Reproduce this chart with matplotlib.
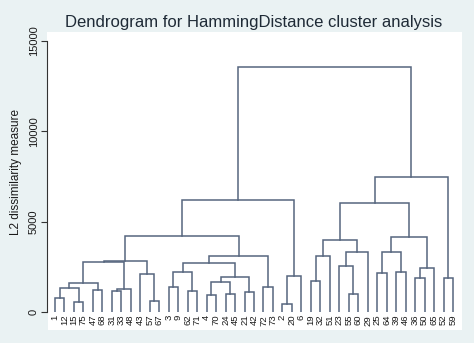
import matplotlib
matplotlib.use("Agg")
import matplotlib.pyplot as plt
from matplotlib.patches import Rectangle

# leaf order along the x axis
leaves = ["1", "12", "15", "75", "47", "68", "31", "33", "48", "43", "57", "67",
          "3", "9", "62", "71", "4", "70", "24", "45", "21", "42", "72", "73",
          "2", "20", "6", "19", "32", "51", "23", "55", "60", "29", "25", "64",
          "39", "46", "36", "50", "65", "52", "59"]

# merges: (left, right, height); a str is a leaf, an int is an earlier merge
left_child = ["1", "15", 0, "47", 2, "31", 5, 4, "57", "43", 7,
              "3", "62", 11, "4", "24", 14, "21", 16, 13, "72", 19, 10,
              "2", 23, 22, "19", 26, "55", "23", 29, 27, "25", "39", 32,
              "36", 35, 34, 31, "52", 38, 25]
right_child = ["12", "75", 1, "68", 3, "33", "48", 6, "67", 8, 9,
               "9", "71", 12, "70", "45", 15, "42", 17, 18, "73", 20, 21,
               "20", "6", 24, "32", "51", "60", 28, "29", 30, "64", "46", 33,
               "50", "65", 36, 37, "59", 39, 40]
heights = [790, 535, 1300, 1215, 1585, 1180, 1270, 2745, 630, 2085, 2820,
           1365, 1140, 2195, 920, 975, 1640, 1105, 1915, 2690, 1400, 3115, 4210,
           460, 2010, 6190, 1730, 3115, 975, 2560, 3300, 3960, 2175, 2230, 3335,
           1860, 2415, 4165, 6050, 1860, 7445, 13560]

line_col = "#56667f"
bg = "#eaf2f3"
txt = "#1a1a1a"

fig = plt.figure(figsize=(4.74, 3.43), dpi=100, facecolor=bg)
W, H = 474, 343
# white plot region (extends below the axis to hold leaf labels)
fig.patches.append(Rectangle((48 / W, (H - 330) / H), (462 - 48) / W, (330 - 32) / H,
                             transform=fig.transFigure, facecolor="white",
                             edgecolor="none", zorder=-1))
ax = fig.add_axes([47 / W, (H - 312) / H, (462 - 47) / W, (312 - 32) / H])
ax.set_facecolor("white")

pos = {lab: i for i, lab in enumerate(leaves)}
node_x = []


def get(c):
    if isinstance(c, str):
        return pos[c], 0.0
    return node_x[c], heights[c]


for a, b, h in zip(left_child, right_child, heights):
    xa, ha = get(a)
    xb, hb = get(b)
    ax.plot([xa, xa, xb, xb], [ha, h, h, hb], color=line_col, lw=1.1,
            solid_joinstyle="miter")
    node_x.append((xa + xb) / 2)

ax.set_xlim(-0.844, 42.95)
ax.set_ylim(0, 15481)

ax.set_xticks(range(len(leaves)))
ax.set_xticklabels(leaves, rotation=90, fontsize=6.8, color=txt,
                   family="Liberation Sans")
ax.tick_params(axis="x", length=0, pad=2)

ax.set_yticks([0, 5000, 10000, 15000])
ax.set_yticklabels(["0", "5000", "10000", "15000"], rotation=90, va="center",
                   fontsize=8, color=txt, family="Liberation Sans")
ax.tick_params(axis="y", length=4, width=0.8, color="#333333", pad=2)
ax.set_ylabel("L2 dissimilarity measure", fontsize=8.5, color=txt,
              family="Liberation Sans", labelpad=5)

for s in ["top", "right", "bottom"]:
    ax.spines[s].set_visible(False)
ax.spines["left"].set_bounds(0, 15000)
ax.spines["left"].set_color("#333333")
ax.spines["left"].set_linewidth(0.8)

fig.text(254 / W, 1 - 22 / H, "Dendrogram for HammingDistance cluster analysis",
         ha="center", va="center", fontsize=12, color="#1e2a36",
         family="Liberation Sans")

fig.savefig("out.png", dpi=100, facecolor=bg)
